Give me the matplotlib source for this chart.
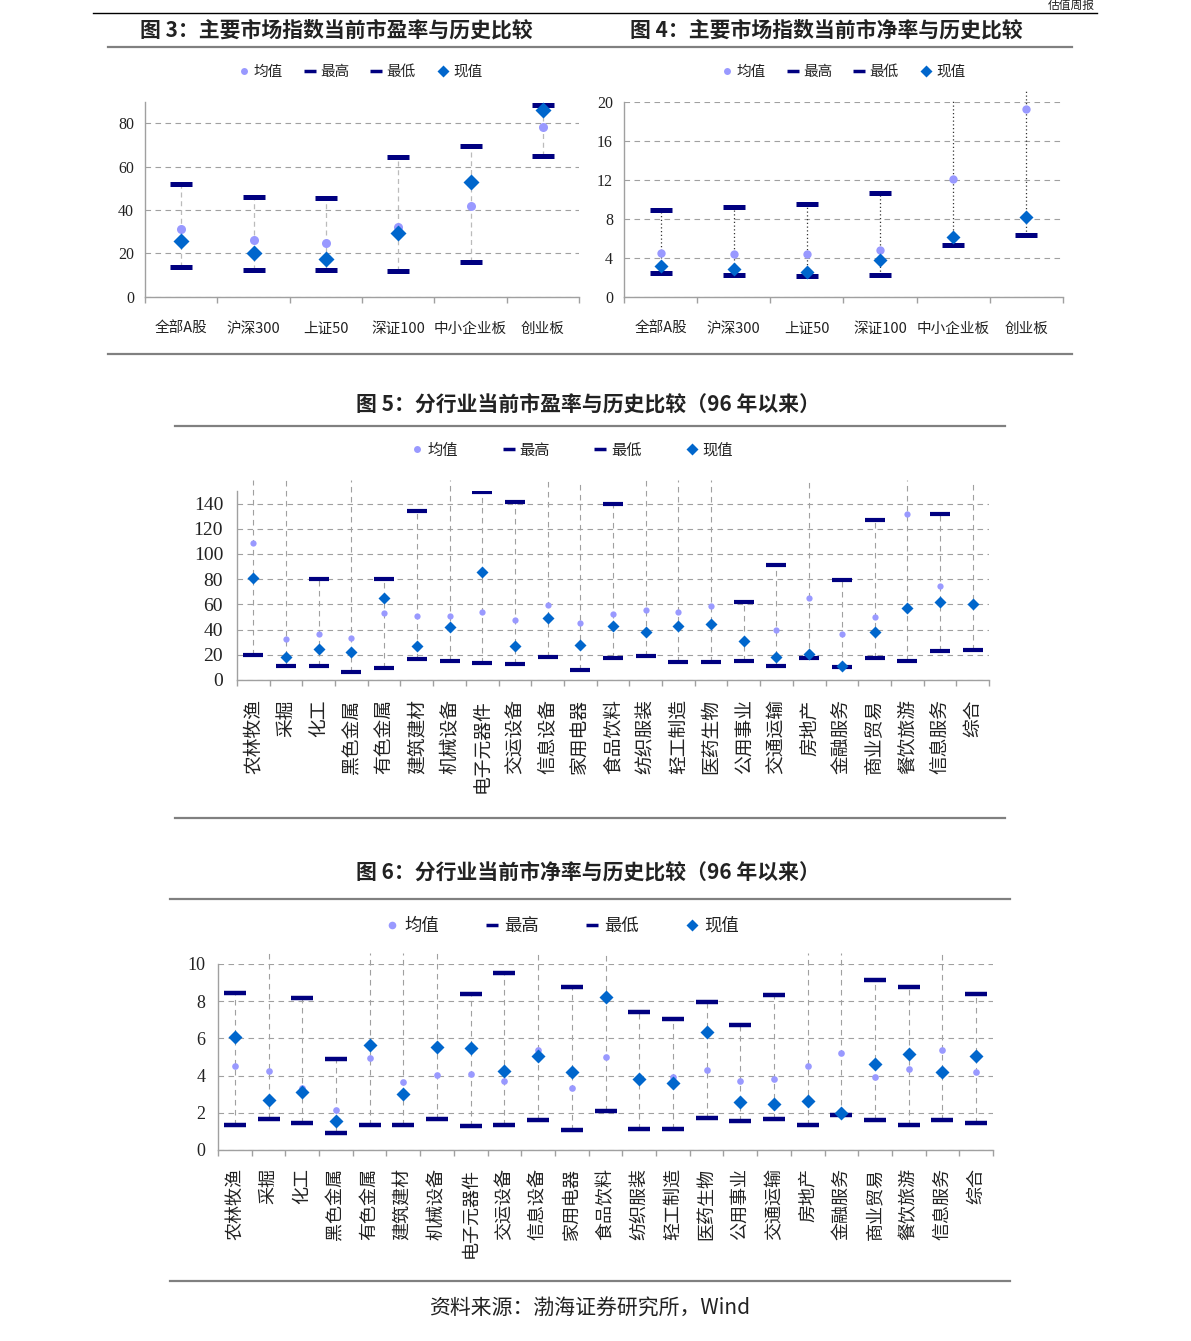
import numpy as np
import matplotlib
matplotlib.use('Agg')
import matplotlib.pyplot as plt
from matplotlib.lines import Line2D

plt.rcParams['font.family'] = ['Noto Sans CJK SC', 'DejaVu Sans']

W, H = 1191, 1341
nan = np.nan

# ---- data: main indices ----
index_names = ['全部A股', '沪深300', '上证50', '深证100', '中小企业板', '创业板']
pe_mean = [31.4, 26.2, 24.9, 32.3, 42.0, 78.2]
pe_high = [52.2, 46.0, 45.5, 64.3, 69.5, 88.3]
pe_low = [13.8, 12.3, 12.3, 11.8, 16.0, 65.1]
pe_now = [25.5, 20.0, 17.4, 29.5, 53.0, 86.2]

pb_mean = [4.44, 4.34, 4.34, 4.79, 12.07, 19.28]
pb_high = [8.89, 9.16, 9.50, 10.6, 20.1, 21.3]
pb_low = [2.39, 2.22, 2.12, 2.22, 5.30, 6.32]
pb_now = [3.18, 2.80, 2.50, 3.73, 6.09, 8.17]

# ---- data: industries (nan = maximum above the axis range) ----
industries = ['农林牧渔', '采掘', '化工', '黑色金属', '有色金属', '建筑建材', '机械设备',
              '电子元器件', '交运设备', '信息设备', '家用电器', '食品饮料', '纺织服装',
              '轻工制造', '医药生物', '公用事业', '交通运输', '房地产', '金融服务',
              '商业贸易', '餐饮旅游', '信息服务', '综合']
ind_pe_mean = [108.8, 32.2, 36.5, 33.0, 52.8, 51.0, 51.0, 53.6, 47.5, 59.7, 45.2, 52.0,
               55.5, 53.6, 58.6, 31.0, 39.9, 64.7, 36.7, 50.2, 132.0, 75.0, 60.0]
ind_pe_high = [nan, nan, 80.0, nan, 80.0, 133.9, nan, 149.0, 141.6, nan, nan, 140.0,
               nan, nan, nan, 62.0, 91.1, nan, 79.2, 126.8, nan, 132.0, nan]
ind_pe_low = [19.8, 11.1, 11.1, 6.1, 9.5, 16.9, 15.3, 13.7, 12.7, 18.0, 7.7, 17.7,
              18.8, 14.5, 14.5, 15.3, 11.1, 17.7, 10.3, 17.7, 15.3, 23.0, 23.8]
ind_pe_now = [81.3, 18.0, 24.3, 22.5, 65.0, 27.0, 42.3, 85.6, 26.7, 48.9, 27.7, 42.8,
              37.8, 42.8, 44.6, 31.2, 18.2, 20.6, 10.8, 37.8, 57.3, 61.8, 60.0]

ind_pb_mean = [4.54, 4.27, 3.32, 2.17, 4.92, 3.64, 4.02, 4.09, 3.70, 5.39, 3.32, 4.99,
               3.80, 3.91, 4.29, 3.72, 3.82, 4.49, 5.24, 3.90, 4.34, 5.37, 4.22]
ind_pb_high = [8.46, nan, 8.19, 4.87, nan, nan, nan, 8.38, 9.53, nan, 8.76, nan,
               7.41, 7.04, 7.94, 6.71, 8.31, nan, nan, 9.14, 8.76, nan, 8.38]
ind_pb_low = [1.35, 1.67, 1.47, 0.90, 1.35, 1.35, 1.67, 1.29, 1.35, 1.60, 1.10, 2.12,
              1.15, 1.15, 1.72, 1.54, 1.67, 1.35, 1.87, 1.60, 1.35, 1.60, 1.47]
ind_pb_now = [6.05, 2.69, 3.11, 1.58, 5.66, 3.03, 5.53, 5.46, 4.25, 5.08, 4.20, 8.22,
              3.81, 3.61, 6.36, 2.59, 2.48, 2.66, 1.97, 4.63, 5.15, 4.18, 5.03]

legend_labels = ['均值', '最高', '最低', '现值']

MEAN_C = '#9999FF'
BAR_C = '#000080'
NOW_C = '#0066CC'
AXIS_C = '#A0A0A0'
TEXT_C = '#222222'

fig = plt.figure(figsize=(W / 100, H / 100), dpi=100)


def rect(x0, y0, x1, y1):
    return [x0 / W, 1 - y1 / H, (x1 - x0) / W, (y1 - y0) / H]


def hline(x0, x1, y, color='#808080', lw=1.6):
    fig.add_artist(Line2D([x0 / W, x1 / W], [1 - y / H, 1 - y / H], color=color, lw=lw))


def panel(ax, names, mean, high, low, now, ytop, yticks, hl, ms_bar, mew_bar, ms_dia,
          ms_dot, ext, ysize, ypad, xsize, xpad, xrot):
    x = np.arange(len(names))
    hi = np.array(high, float)
    lo = np.array(low, float)
    top = np.where(np.isnan(hi), ytop * ext, hi)
    ax.vlines(x, lo, top, clip_on=False, zorder=2, **hl)
    ax.plot(x, mean, 'o', ms=ms_dot, color=MEAN_C, mec='none', zorder=3)
    vis = ~np.isnan(hi) & (np.nan_to_num(hi) <= ytop)
    ax.plot(x[vis], hi[vis], '_', ms=ms_bar, mew=mew_bar, color=BAR_C, zorder=4)
    ax.plot(x, lo, '_', ms=ms_bar, mew=mew_bar, color=BAR_C, zorder=4)
    ax.plot(x, now, 'D', ms=ms_dia, color=NOW_C, mec='none', zorder=5)

    ax.set_xlim(-0.5, len(names) - 0.5)
    ax.set_ylim(0, ytop)
    ax.set_yticks(yticks)
    ax.grid(axis='y', color=AXIS_C, ls=(0, (5, 4)), lw=0.8)
    ax.set_axisbelow(True)
    for s in ['top', 'right']:
        ax.spines[s].set_visible(False)
    for s in ['left', 'bottom']:
        ax.spines[s].set_color(AXIS_C)
        ax.spines[s].set_linewidth(1.0)
    ax.tick_params(axis='y', length=0, pad=ypad, labelsize=ysize, labelcolor=TEXT_C)
    for lbl in ax.get_yticklabels():
        lbl.set_fontfamily('Liberation Serif')
    ax.set_xticks(x)
    ax.set_xticklabels(names, rotation=xrot, va='top', ha='center')
    ax.tick_params(axis='x', which='major', length=0, pad=xpad, labelsize=xsize,
                   labelcolor=TEXT_C)
    ax.set_xticks(np.arange(-0.5, len(names), 1), minor=True)
    ax.tick_params(axis='x', which='minor', length=4, color=AXIS_C, width=1.0)


def legend(cx, cy, size, colsp, ms_scale=1.0):
    handles = [
        Line2D([], [], marker='o', ls='none', color=MEAN_C, mec='none', ms=5 * ms_scale),
        Line2D([], [], marker='_', ls='none', color=BAR_C, ms=8 * ms_scale, mew=2.5),
        Line2D([], [], marker='_', ls='none', color=BAR_C, ms=8 * ms_scale, mew=2.5),
        Line2D([], [], marker='D', ls='none', color=NOW_C, mec='none', ms=6 * ms_scale),
    ]
    fig.legend(handles, legend_labels, loc='center', bbox_to_anchor=(cx / W, 1 - cy / H),
               ncol=4, frameon=False, fontsize=size, handlelength=0.8, handletextpad=0.3,
               columnspacing=colsp, labelcolor=TEXT_C, borderpad=0, borderaxespad=0)


# ---- page decorations ----
hline(93, 1097, 13, color='black', lw=1.0)
fig.text(1095 / W, 1 - 12 / H, '估值周报', ha='right', va='bottom', fontsize=8.5, color=TEXT_C)

# ---- figure 3 and 4 ----
fig.text(140 / W, 1 - 30 / H, '图 3：主要市场指数当前市盈率与历史比较', ha='left', va='center',
         fontsize=15, fontweight='bold', color=TEXT_C)
fig.text(630 / W, 1 - 30 / H, '图 4：主要市场指数当前市净率与历史比较', ha='left', va='center',
         fontsize=15, fontweight='bold', color=TEXT_C)
hline(108, 1072, 47)
hline(108, 1072, 354)
legend(360, 72, 10.5, 1.45)
legend(843, 72, 10.5, 1.45)

ax3 = fig.add_axes(rect(145, 101.7, 579, 296.7))
panel(ax3, index_names, pe_mean, pe_high, pe_low, pe_now, 90, [0, 20, 40, 60, 80],
      dict(colors='#BBBBBB', linestyles=(0, (4, 3)), linewidths=0.9),
      ms_bar=16.5, mew_bar=3.6, ms_dia=8, ms_dot=6.5, ext=1.0,
      ysize=11.5, ypad=8, xsize=10.5, xpad=18, xrot=0)

ax4 = fig.add_axes(rect(624, 101.7, 1063, 296.7))
panel(ax4, index_names, pb_mean, pb_high, pb_low, pb_now, 20, [0, 4, 8, 12, 16, 20],
      dict(colors='#333333', linestyles=(0, (1, 2)), linewidths=0.9),
      ms_bar=16, mew_bar=3.6, ms_dia=7.5, ms_dot=6, ext=1.0,
      ysize=11.5, ypad=8, xsize=10.5, xpad=18, xrot=0)

# ---- figure 5 ----
fig.text(588 / W, 1 - 404 / H, '图 5：分行业当前市盈率与历史比较（96 年以来）', ha='center',
         va='center', fontsize=15, fontweight='bold', color=TEXT_C)
hline(175, 1005, 426)
hline(175, 1005, 818)
legend(572, 450, 11, 2.9)

ax5 = fig.add_axes(rect(237, 491, 989, 680))
panel(ax5, industries, ind_pe_mean, ind_pe_high, ind_pe_low, ind_pe_now, 150,
      list(range(0, 141, 20)),
      dict(colors=AXIS_C, linestyles=(0, (5, 4)), linewidths=0.8),
      ms_bar=14.5, mew_bar=3.0, ms_dia=6.5, ms_dot=4.5, ext=1.06,
      ysize=14, ypad=10, xsize=13.5, xpad=14, xrot=90)

# ---- figure 6 ----
fig.text(588 / W, 1 - 872 / H, '图 6：分行业当前市净率与历史比较（96 年以来）', ha='center',
         va='center', fontsize=15, fontweight='bold', color=TEXT_C)
hline(170, 1010, 899)
hline(170, 1010, 1281)
legend(562, 926, 12.5, 2.65, ms_scale=1.1)

ax6 = fig.add_axes(rect(218, 964, 993, 1150))
panel(ax6, industries, ind_pb_mean, ind_pb_high, ind_pb_low, ind_pb_now, 10,
      list(range(0, 11, 2)),
      dict(colors=AXIS_C, linestyles=(0, (5, 4)), linewidths=0.8),
      ms_bar=16, mew_bar=3.2, ms_dia=7, ms_dot=4.8, ext=1.06,
      ysize=13, ypad=9, xsize=13, xpad=13, xrot=90)

fig.text(590 / W, 1 - 1309 / H, '资料来源：渤海证券研究所，Wind', ha='center', va='center',
         fontsize=15, color=TEXT_C)

fig.savefig('out.png', dpi=100)
